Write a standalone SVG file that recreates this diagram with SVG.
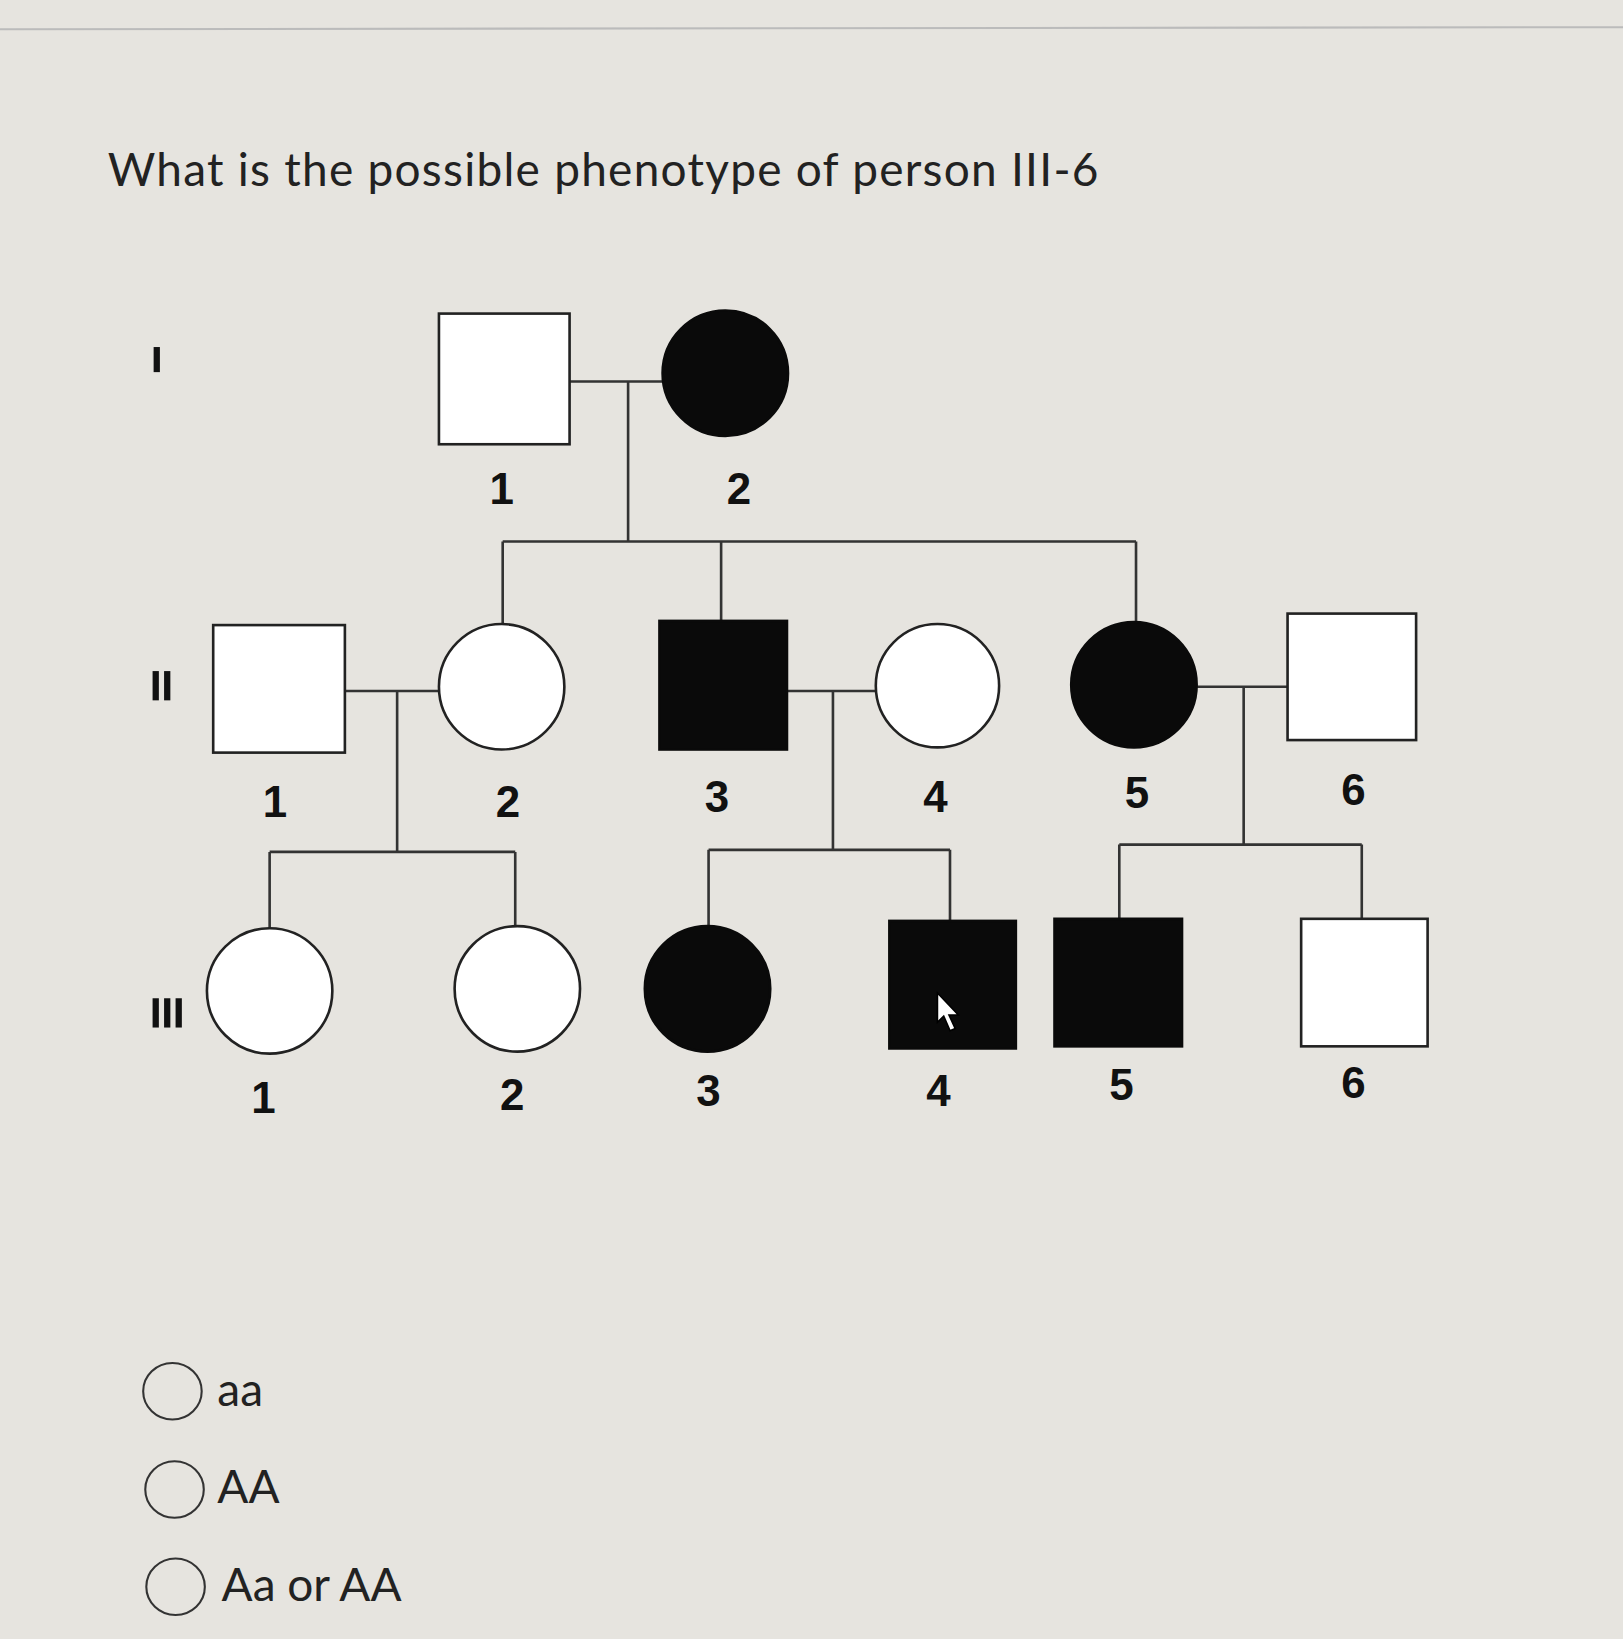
<svg xmlns="http://www.w3.org/2000/svg" width="1623" height="1639" viewBox="0 0 1623 1639">
<style>
.o{fill:#fff;stroke:#222;stroke-width:2.5}
.f{fill:#0a0a0a;stroke:#0a0a0a;stroke-width:2.5}
.l{fill:none;stroke:#333;stroke-width:2.5}
.n{font-family:"Liberation Sans",Arial,sans-serif;font-weight:bold;font-size:42px;fill:#111;text-anchor:middle}
.t{font-family:Lato,"Liberation Sans",sans-serif;font-size:44px;fill:#222}
.r{fill:none;stroke:#333;stroke-width:2}
</style>
<rect width="1623" height="1639" fill="#e6e4df"/>
<g transform="scale(1.0451,1.0453)">
<line x1="0" y1="28" x2="1553" y2="26" stroke="#bbb" stroke-width="2"/>
<text class="t" x="103" y="178" font-size="46" textLength="948" lengthAdjust="spacing">What is the possible phenotype of person III-6</text>
<g id="connectors">
<path class="l" d="M545 365H634M601 365V518M481 518H1087M481 518V597M690 518V594M1087 518V595"/>
<path class="l" d="M330 661H420M380 661V815M258 815H493M258 815V888M493 815V886"/>
<path class="l" d="M753 661H838M797 661V813M678 813H909M678 813V886M909 813V881"/>
<path class="l" d="M1145 657H1232M1190 657V808M1071 808H1303M1071 808V879M1303 808V879"/>
</g>
<g id="gen-labels">
<rect x="147" y="332" width="6" height="24" fill="#111"/>
<rect x="146" y="642" width="6" height="28" fill="#111"/><rect x="157" y="642" width="6" height="28" fill="#111"/>
<rect x="146" y="955" width="6" height="28" fill="#111"/><rect x="157" y="955" width="6" height="28" fill="#111"/><rect x="168" y="955" width="6" height="28" fill="#111"/>
</g>
<g id="I-1"><rect class="o" x="420" y="300" width="125" height="125"/><text class="n" x="480" y="482">1</text></g>
<g id="I-2"><circle class="f" cx="694" cy="357" r="60"/><text class="n" x="707" y="482">2</text></g>
<g id="II-1"><rect class="o" x="204" y="598" width="126" height="122"/><text class="n" x="263" y="782">1</text></g>
<g id="II-2"><circle class="o" cx="480" cy="657" r="60"/><text class="n" x="486" y="782">2</text></g>
<g id="II-3"><rect class="f" x="631" y="594" width="122" height="123"/><text class="n" x="686" y="777">3</text></g>
<g id="II-4"><circle class="o" cx="897" cy="656" r="59"/><text class="n" x="895" y="777">4</text></g>
<g id="II-5"><circle class="f" cx="1085" cy="655" r="60"/><text class="n" x="1088" y="773">5</text></g>
<g id="II-6"><rect class="o" x="1232" y="587" width="123" height="121"/><text class="n" x="1295" y="770">6</text></g>
<g id="III-1"><circle class="o" cx="258" cy="948" r="60"/><text class="n" x="252" y="1065">1</text></g>
<g id="III-2"><circle class="o" cx="495" cy="946" r="60"/><text class="n" x="490" y="1062">2</text></g>
<g id="III-3"><circle class="f" cx="677" cy="946" r="60"/><text class="n" x="678" y="1058">3</text></g>
<g id="III-4"><rect class="f" x="851" y="881" width="121" height="122"/><text class="n" x="898" y="1058">4</text>
<path d="M897 950V978L903 972L909 986L914 984L908 971L917 971Z" fill="#fff" stroke="#000" stroke-width="1.5"/></g>
<g id="III-5"><rect class="f" x="1009" y="879" width="122" height="122"/><text class="n" x="1073" y="1052">5</text></g>
<g id="III-6"><rect class="o" x="1245" y="879" width="121" height="122"/><text class="n" x="1295" y="1050">6</text></g>
<g id="options">
<ellipse class="r" cx="165" cy="1331" rx="28" ry="27"/><text class="t" x="208" y="1345">aa</text>
<ellipse class="r" cx="167" cy="1425" rx="28" ry="27"/><text class="t" x="208" y="1438">AA</text>
<ellipse class="r" cx="168" cy="1518" rx="28" ry="27"/><text class="t" x="212" y="1532">Aa or AA</text>
</g>
</g>
</svg>
